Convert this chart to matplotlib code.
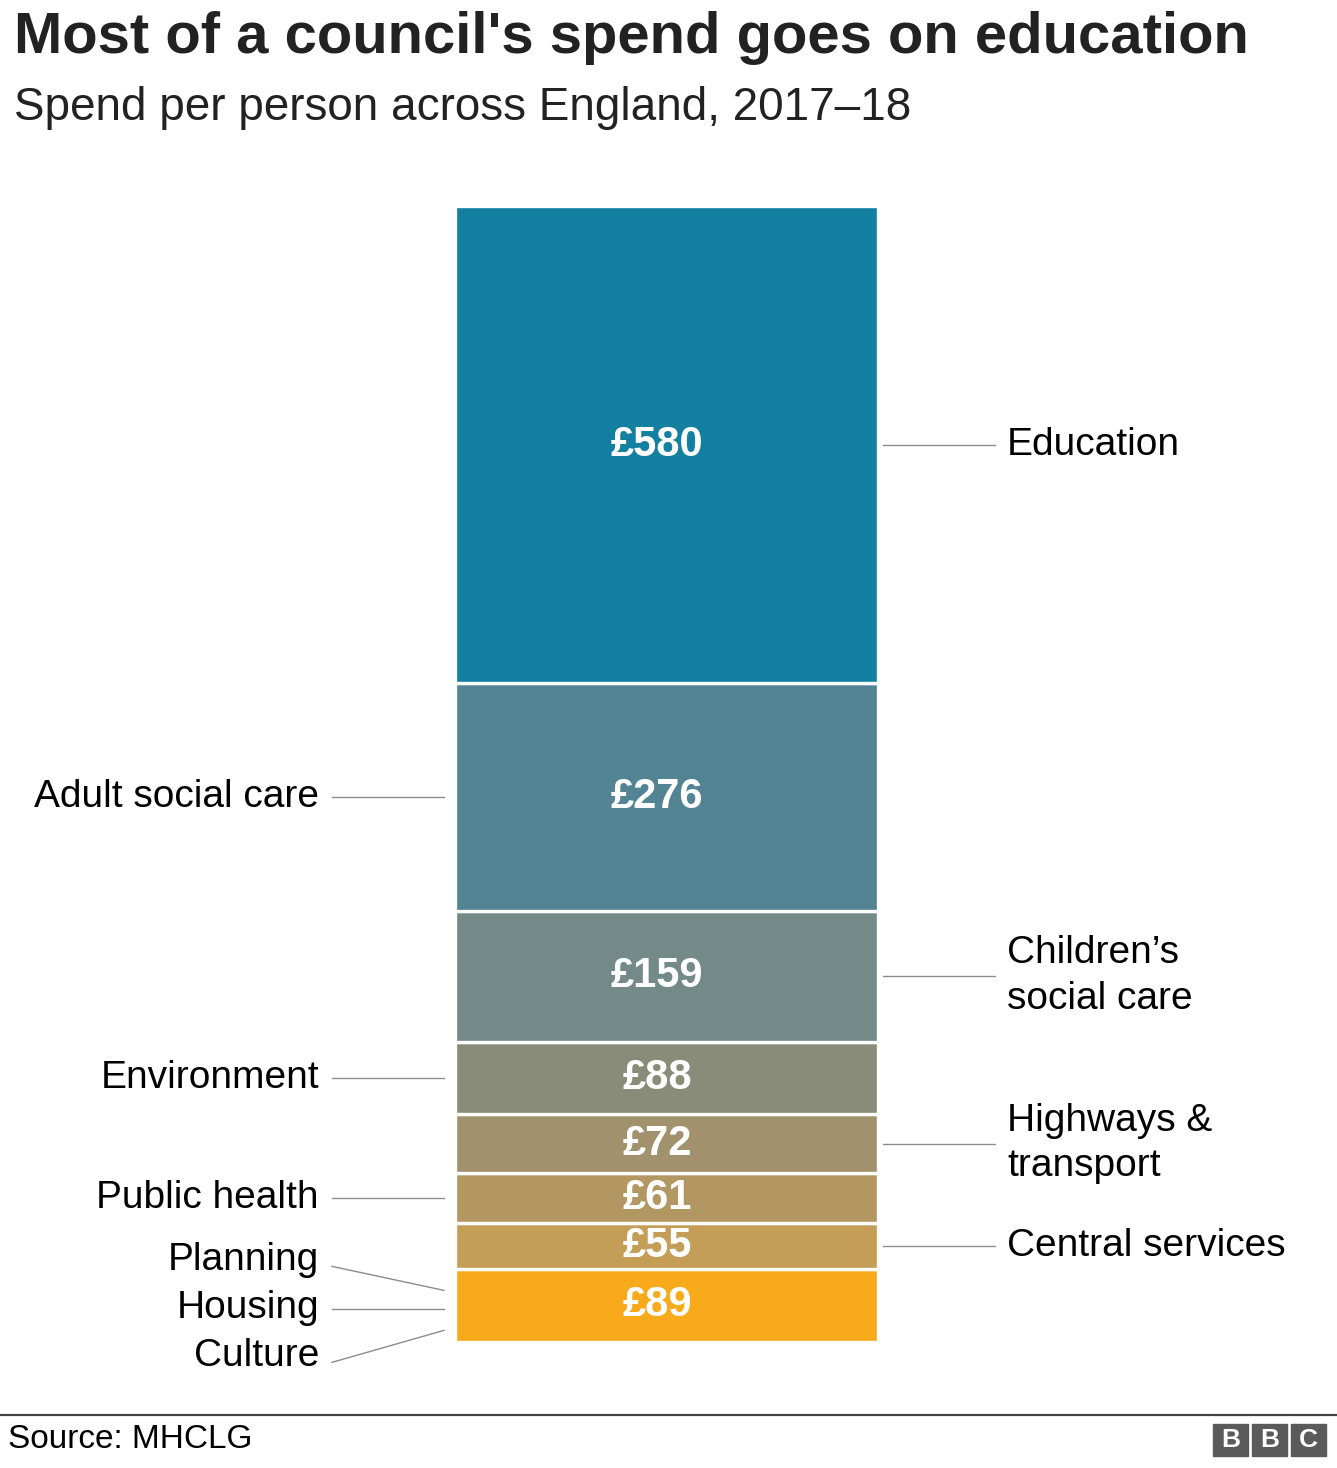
import matplotlib
matplotlib.use("Agg")
import matplotlib.pyplot as plt
from matplotlib.patches import Rectangle

plt.rcParams['font.family'] = ['Liberation Sans', 'DejaVu Sans']

# data, bottom segment first
categories = ['Planning\nHousing\nCulture', 'Central services', 'Public health',
              'Highways &\ntransport', 'Environment', 'Children\u2019s\nsocial care',
              'Adult social care', 'Education']
values = [89, 55, 61, 72, 88, 159, 276, 580]
colours = ['#F8AA1A', '#C49D56', '#B29762', '#A1926D', '#8A8C7A', '#738A89',
           '#528493', '#1380A1']
label_side = ['left', 'right', 'left', 'right', 'left', 'right', 'left', 'right']

W, H = 1337, 1468
fig = plt.figure(figsize=(W / 100, H / 100), dpi=100)

# axes over the whole figure: x in pixels, y in pounds
total = sum(values)
bar_bottom_px, bar_top_px = 1342, 206
k = (bar_bottom_px - bar_top_px) / total   # px per pound
ax = fig.add_axes([0, 0, 1, 1])
ax.set_xlim(0, W)
ax.set_ylim(-(H - bar_bottom_px) / k, total + bar_top_px / k)
ax.axis('off')

bar_x, bar_w = 455, 423
ax.bar([bar_x + bar_w / 2] * len(values), values, width=bar_w,
       bottom=[sum(values[:i]) for i in range(len(values))],
       color=colours, edgecolor='white', linewidth=2.4)

line_col = '#8c8c8c'
bottom = 0
for cat, v, side in zip(categories, values, label_side):
    mid = bottom + v / 2
    ax.text(657, mid, '\u00a3%d' % v, color='white', fontsize=30,
            fontweight='bold', ha='center', va='center')
    if side == 'right':
        ax.plot([883, 995], [mid, mid], color=line_col, lw=1)
        ax.text(1007, mid, cat, fontsize=28, ha='left', va='center',
                linespacing=1.33)
    elif '\n' in cat:
        # three small groups sharing the last segment (offsets in px)
        names = cat.split('\n')
        txt_off = [45, -3, -51]
        start_off = [39, -4, -57]
        end_off = [15, -4, -25]
        for name, t, s, e in zip(names, txt_off, start_off, end_off):
            ax.plot([332, 444], [mid + s / k, mid + e / k], color=line_col, lw=1)
            ax.text(319, mid + t / k, name, fontsize=28, ha='right', va='center')
    else:
        ax.plot([332, 444], [mid, mid], color=line_col, lw=1)
        ax.text(319, mid, cat, fontsize=28, ha='right', va='center')
    bottom += v

fig.text(14 / W, 1 - 38 / H, "Most of a council's spend goes on education",
         fontsize=41.8, fontweight='bold', color='#222222', ha='left', va='center')
fig.text(14 / W, 1 - 108 / H, 'Spend per person across England, 2017\u201318',
         fontsize=33, color='#222222', ha='left', va='center')

# footer
fig.add_artist(plt.Line2D([0, 1], [1 - 1415 / H, 1 - 1415 / H],
                          color='#444444', lw=1.6))
fig.text(8 / W, 1 - 1440 / H, 'Source: MHCLG', fontsize=24, ha='left', va='center')
for i, letter in enumerate('BBC'):
    x0 = 1213 + i * 39
    fig.add_artist(Rectangle((x0 / W, 1 - 1456 / H), 35 / W, 32 / H,
                             transform=fig.transFigure, color='#5a5a5a'))
    fig.text((x0 + 17.5) / W, 1 - 1440 / H, letter, color='white', fontsize=19,
             fontweight='bold', ha='center', va='center')

fig.savefig('out.png', dpi=100)
